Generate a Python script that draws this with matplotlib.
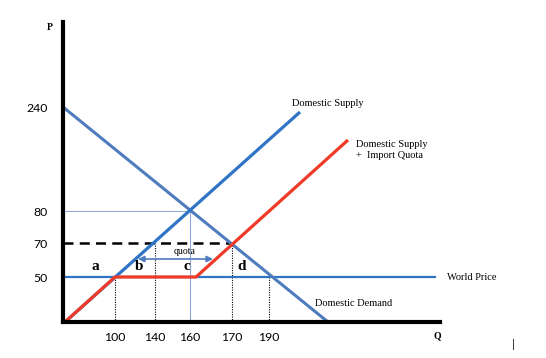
import numpy as np
import matplotlib
matplotlib.use("Agg")
import matplotlib.pyplot as plt

# schematic diagram: labels and where they sit along each axis
price_labels = [240, 80, 70, 50]
price_pos = [215, 111, 79, 45]
qty_labels = [100, 140, 160, 170, 190]
qty_pos = [52, 92, 127, 169, 206]

# curves (schematic units)
supply_x = [2, 237]
supply_y = [0, 210]
demand_x = [0, 265]
demand_y = [215, 0]
quota_x = [2, 52, 133, 285]
quota_y = [0, 45, 45, 182]
world_x = [0, 372]
world_y = [45, 45]

area_labels = ["a", "b", "c", "d"]
area_x = [32, 76, 124, 179]

fig = plt.figure(figsize=(5.46, 3.58), dpi=100)
ax = fig.add_axes([63 / 546, 36 / 358, 377 / 546, 300 / 358])
ax.set_xlim(0, 377)
ax.set_ylim(0, 300)

for s in ["top", "right"]:
    ax.spines[s].set_visible(False)
for s in ["left", "bottom"]:
    ax.spines[s].set_linewidth(3)
    ax.spines[s].set_zorder(5)

sans = "Lato"
serif = "Liberation Serif"

ax.set_yticks(price_pos)
ax.set_yticklabels(price_labels, fontsize=8.8, family=sans)
ax.set_xticks(qty_pos)
ax.set_xticklabels(qty_labels, fontsize=8.8, family=sans)
ax.tick_params(length=0)
ax.tick_params(axis="y", pad=11)
ax.tick_params(axis="x", pad=7)

# guide lines
p80 = price_pos[1]
p70 = price_pos[2]
p50 = price_pos[3]
ax.plot([0, qty_pos[2]], [p80, p80], color="#8EA9DB", lw=0.8)
ax.plot([qty_pos[2], qty_pos[2]], [0, p80], color="#8EA9DB", lw=0.8)
ax.plot([0, qty_pos[3]], [p70, p70], color="black", lw=1.8, ls=(0, (4, 2.5)))
for q, top in zip([qty_pos[0], qty_pos[1], qty_pos[3], qty_pos[4]], [p50, p70, p70, p50]):
    ax.plot([q, q], [0, top], color="black", lw=0.8, ls=(0, (1, 1.2)))

# curves
ax.plot(world_x, world_y, color="#2E74C4", lw=1.6, clip_on=False)
ax.plot(demand_x, demand_y, color="#4F7CBE", lw=2.2, solid_capstyle="butt")
ax.plot(supply_x, supply_y, color="#2F74C6", lw=2.3, solid_capstyle="butt")
ax.plot(quota_x, quota_y, color="#EE3A26", lw=2.3, solid_capstyle="butt")

# quota arrow
ax.annotate("", xy=(75, 63), xytext=(150, 63),
            arrowprops=dict(arrowstyle="<|-|>", color="#4F7CBE", lw=1.2,
                            mutation_scale=9, shrinkA=0, shrinkB=0))
ax.text(122, 70, "quota", fontsize=7, family=serif, ha="center", va="center")

for lab, x in zip(area_labels, area_x):
    ax.text(x, 55, lab, fontsize=11, family=serif, weight="bold", ha="center", va="center")

ax.text(229, 218, "Domestic Supply", fontsize=7.5, family=serif, va="center")
ax.text(293, 172, "Domestic Supply\n+  Import Quota", fontsize=7.5, family=serif,
        va="center", linespacing=1.3)
ax.text(252, 19, "Domestic Demand", fontsize=7.5, family=serif, va="center")
ax.text(384, 45, "World Price", fontsize=7.5, family=serif, va="center", clip_on=False)

ax.text(-13, 294, "P", fontsize=7, family=serif, weight="bold", ha="center", va="center")
ax.text(374, -14, "Q", fontsize=7, family=serif, weight="bold", ha="center", va="center")
ax.text(450, -23, "|", fontsize=8, family=sans, ha="center", va="center", clip_on=False)

fig.savefig("out.png", dpi=100)
